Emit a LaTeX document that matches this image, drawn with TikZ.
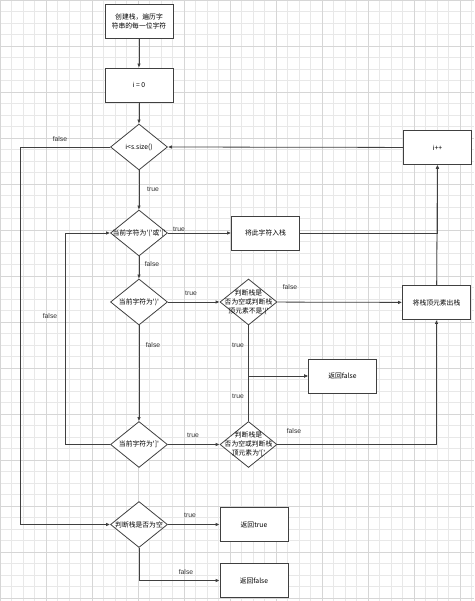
\documentclass[tikz,border=0pt]{standalone}
\usepackage{fontspec}
\setmainfont{Liberation Sans}
\newfontfamily\cjk{Noto Sans CJK SC}
\usepackage{tikz}
\usetikzlibrary{arrows.meta,shapes.geometric,calc}

\tikzset{
  box/.style={draw=black!75,line width=0.8pt,fill=white,minimum width=68pt,minimum height=34pt,inner sep=1pt,align=center,font=\cjk\fontsize{6.8}{9}\selectfont},
  dia/.style={draw=black!75,line width=0.8pt,fill=white,diamond,minimum width=57pt,minimum height=46pt,inner sep=0pt},
  diatext/.style={align=center,inner sep=0pt,font=\cjk\fontsize{6.8}{9}\selectfont},
  flow/.style={draw=black!75,line width=0.8pt,-{Latex[length=4pt,width=3.6pt]}},
  plain/.style={draw=black!75,line width=0.8pt},
  lab/.style={font=\fontsize{6.8}{8}\selectfont,text=black!80,inner sep=0pt}
}

\begin{document}
\begin{tikzpicture}[x=1pt,y=-1pt]
\useasboundingbox (0,0) rectangle (474,601);
% grid paper
\fill[white] (0,0) rectangle (474,601);
\foreach \i in {0,...,52} \draw[black!9,line width=0.4pt] (\i*11.5,0)--(\i*11.5,601);
\foreach \i in {0,...,53} \draw[black!9,line width=0.4pt] (0,\i*11.5)--(474,\i*11.5);
\foreach \i in {0,...,13} \draw[black!16,line width=0.5pt] (\i*46,0)--(\i*46,601);
\foreach \i in {0,...,13} \draw[black!16,line width=0.5pt] (0,\i*46)--(474,\i*46);

% boxes
\node[box] (start) at (139,21.5) {创建栈，遍历字\\符串的每一位字符};
\node[box] (init) at (139,85) {i = 0};
\node[box] (push) at (265.5,233) {将此字符入栈};
\node[box] (inc) at (437.5,147.5) {i++};
\node[box] (pop) at (436.5,302.5) {将栈顶元素出栈};
\node[box] (retf) at (342.5,376) {返回false};
\node[box] (rett) at (254,524.5) {返回true};
\node[box] (retf2) at (254,580.5) {返回false};

% decisions
\node[dia,label={[diatext]center:i<s.size()}] (loop) at (139,147) {};
\node[dia,label={[diatext]center:当前字符为'('或'['}] (open) at (139,233) {};
\node[dia,label={[diatext]center:当前字符为')'}] (close1) at (139,302) {};
\node[dia,label={[diatext]center:判断栈是\\否为空或判断栈\\顶元素不是'('}] (chk1) at (248.5,302) {};
\node[dia,label={[diatext]center:当前字符为']'}] (close2) at (139,444.5) {};
\node[dia,label={[diatext]center:判断栈是\\否为空或判断栈\\顶元素为'['}] (chk2) at (248.5,444.5) {};
\node[dia,label={[diatext]center:判断栈是否为空}] (empty) at (139,524.5) {};

\coordinate (outer) at (20,147);
\coordinate (inner) at (65,444.5);

% connectors
\draw[flow] (start) -- (init);
\draw[flow] (init) -- (loop);
\draw[flow] (loop) -- (open);
\draw[flow] (loop.west) -- (outer) |- (empty.west);
\draw[flow] (open) -- (push);
\draw[flow] (push.east) -| (inc.south);
\draw[flow] (pop) -- (inc);
\draw[flow] (inc) -- (loop.east);
\draw[flow] (open) -- (close1);
\draw[flow] (close1) -- (chk1);
\draw[flow] (chk1) -- (pop);
\draw[flow] (close1) -- (close2);
\draw[flow] (chk1.south) |- (retf.west);
\draw[flow] (chk2.north) |- (retf.west);
\draw[flow] (close2.west) -- (inner) |- (open.west);
\draw[flow] (close2) -- (chk2);
\draw[flow] (chk2.east) -| (pop.south);
\draw[flow] (empty) -- (rett);
\draw[flow] (empty.south) |- (retf2.west);

% branch labels
\node[lab] at (60,139) {false};
\node[lab] at (153,189) {true};
\node[lab] at (179,229) {true};
\node[lab] at (152,264) {false};
\node[lab] at (191,293) {true};
\node[lab] at (290,287) {false};
\node[lab] at (153,345) {false};
\node[lab] at (238,345) {true};
\node[lab] at (238,396) {true};
\node[lab] at (50,316) {false};
\node[lab] at (193,435) {true};
\node[lab] at (294,431) {false};
\node[lab] at (190,515) {true};
\node[lab] at (186,572) {false};
\end{tikzpicture}
\end{document}
